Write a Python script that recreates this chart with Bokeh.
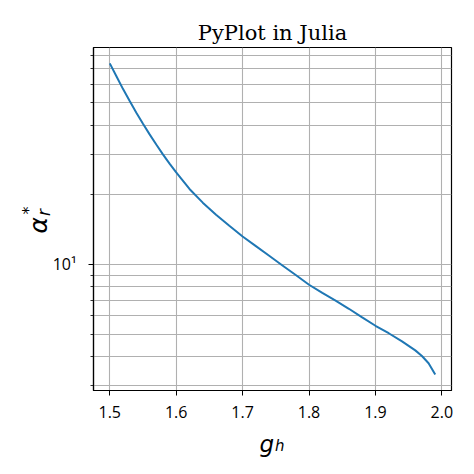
import math
from bokeh.plotting import figure
from bokeh.models import (Range1d, FixedTicker, NumeralTickFormatter, Label)
from bokeh.embed import file_html
from bokeh.resources import INLINE

# ---- data ----
gh = [1.50, 1.51, 1.52, 1.53, 1.54, 1.55, 1.56, 1.57, 1.58, 1.59, 1.60, 1.62, 1.64,
      1.66, 1.68, 1.70, 1.72, 1.74, 1.76, 1.78, 1.80, 1.82, 1.84, 1.86, 1.88, 1.90,
      1.92, 1.94, 1.96, 1.97, 1.98, 1.99]
alpha_r = [74.0, 65.1, 57.3, 50.9, 45.3, 40.6, 36.5, 33.0, 29.9, 27.3, 25.0, 21.2, 18.5,
           16.4, 14.7, 13.2, 12.0, 10.9, 9.9, 9.0, 8.17, 7.53, 6.97, 6.43, 5.90, 5.43,
           5.04, 4.65, 4.25, 4.02, 3.74, 3.34]

x_ticks = [1.5, 1.6, 1.7, 1.8, 1.9, 2.0]
y_major_ticks = [10]
y_major_labels = {10: "10\u00b9"}
y_minor_ticks = [3, 4, 5, 6, 7, 8, 9, 20, 30, 40, 50, 60, 70, 80]

title_text = "PyPlot in Julia"

GRID = "#b0b0b0"
LINE = "#1f77b4"
TICK_FONT = "Open Sans"
MATH_FONT = "DejaVu Sans"

p = figure(width=474, height=474, y_axis_type="log",
           x_range=Range1d(1.4755, 2.0145), y_range=Range1d(2.85, 86.7),
           output_backend="svg", toolbar_location=None,
           min_border_left=93, min_border_right=23, min_border_top=47,
           min_border_bottom=84, title=title_text)

p.title.text_font = "DejaVu Serif"
p.title.text_font_size = "21px"
p.title.text_font_style = "normal"
p.title.align = "center"
p.title.standoff = 6
p.title.text_color = "black"

p.outline_line_color = "black"
p.outline_line_width = 1.2
p.outline_line_alpha = 1.0
p.background_fill_color = "white"
p.border_fill_color = "white"

# axes
p.xaxis.ticker = FixedTicker(ticks=x_ticks, minor_ticks=[])
p.xaxis.formatter = NumeralTickFormatter(format="0.0")
p.yaxis.ticker = FixedTicker(ticks=y_major_ticks, minor_ticks=y_minor_ticks)
p.yaxis.major_label_overrides = y_major_labels

for ax in (p.xaxis, p.yaxis):
    ax.axis_line_color = "black"
    ax.axis_line_width = 1.2
    ax.major_tick_line_color = "black"
    ax.minor_tick_line_color = "black"
    ax.major_tick_line_width = 1.0
    ax.minor_tick_line_width = 0.8
    ax.major_tick_out = 5
    ax.major_tick_in = 0
    ax.minor_tick_out = 3
    ax.minor_tick_in = 0
    ax.major_label_text_font = TICK_FONT
    ax.major_label_text_font_size = "16px"
    ax.major_label_text_color = "black"

p.xaxis.major_label_standoff = 10
p.yaxis.major_label_standoff = 12

# grid
p.xgrid.grid_line_color = GRID
p.xgrid.grid_line_width = 1.1
p.ygrid.grid_line_color = GRID
p.ygrid.grid_line_width = 1.1
p.ygrid.minor_grid_line_color = GRID
p.ygrid.minor_grid_line_width = 1.1

# curve
p.line(gh, alpha_r, line_color=LINE, line_width=2)

# axis labels made of real text pieces (math-style sub/superscripts),
# placed in the side panels (canvas units) so they are not clipped by the frame
rot = math.pi / 2
def lab(side, x, y, text, size, style, angle=0.0, align="left"):
    p.add_layout(Label(x=x, y=y, x_units="canvas", y_units="canvas", text=text,
                       angle=angle, text_font=MATH_FONT, text_font_style=style,
                       text_font_size=size, text_align=align,
                       text_baseline="alphabetic", text_color="black"), side)

lab("left", 38, 233, "\u03b1", "25px", "italic", rot, "left")
lab("left", 43, 212, "r", "17px", "italic", rot, "center")
lab("below", 28, 210, "*", "16px", "normal", rot, "center")
lab("below", 259, 443, "g", "23px", "italic")
lab("right", 274.5, 445, "h", "15px", "italic")

open("out.html", "w").write(file_html(p, INLINE))
